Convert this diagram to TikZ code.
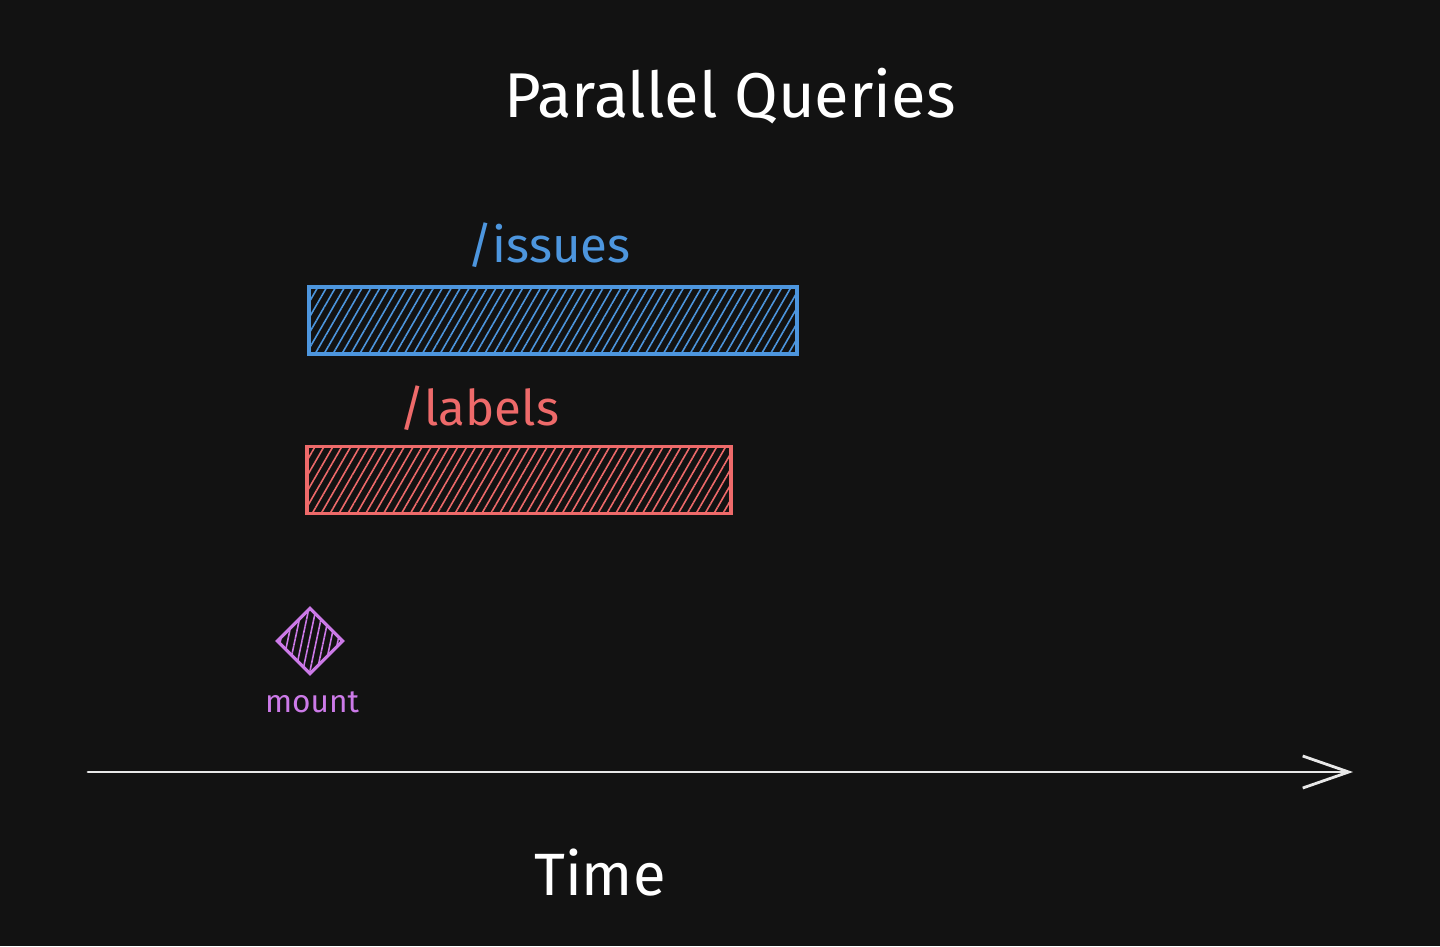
\documentclass[tikz,border=0pt]{standalone}
\usepackage{fontspec}
\setmainfont{Fira Sans}
\usetikzlibrary{arrows.meta,patterns.meta,shapes.geometric,positioning}
\definecolor{bg}{RGB}{18,18,18}
\definecolor{qblue}{RGB}{77,150,222}
\definecolor{qred}{RGB}{238,106,106}
\definecolor{qpurple}{RGB}{204,122,232}
\definecolor{axisgray}{RGB}{232,232,232}
\tikzstyle{querybar} = [draw, rectangle, line width=1pt, inner sep=0pt,
    minimum height=0.67cm]
\tikzstyle{qtext} = [inner sep=0pt, font=\fontsize{14}{16}\selectfont]
\tikzstyle{marker} = [draw=qpurple, diamond, line width=0.9pt, inner sep=0pt,
    minimum width=0.66cm, minimum height=0.66cm,
    pattern={Lines[angle=78,distance=2pt,line width=0.45pt]}, pattern color=qpurple]
\begin{document}
\begin{tikzpicture}[node distance=1cm,>={Straight Barb[length=4.6mm,width=3.2mm]}]
    \fill [bg] (0,0) rectangle (14.4,-9.46);
    \useasboundingbox (0,0) rectangle (14.4,-9.46);
    \node [text=white, inner sep=0pt, font=\fontsize{18}{21}\selectfont] (title) at (7.30,-0.96) {Parallel Queries};
    \node [querybar, draw=qblue, minimum width=4.88cm,
        pattern={Lines[angle=60,distance=2.2pt,line width=0.45pt]}, pattern color=qblue] (issues) at (5.53,-3.205) {};
    \node [qtext, text=qblue, above of=issues, node distance=0.75cm, xshift=-0.04cm] (issueslbl) {/issues};
    \node [querybar, draw=qred, minimum width=4.24cm,
        pattern={Lines[angle=60,distance=2.2pt,line width=0.45pt]}, pattern color=qred] (labels) at (5.19,-4.80) {};
    \node [qtext, text=qred, above of=labels, node distance=0.72cm, xshift=-0.4cm] (labelslbl) {/labels};
    \node [marker] (mount) at (3.10,-6.41) {};
    \node [inner sep=0pt, text=qpurple, font=\fontsize{9}{11}\selectfont, below of=mount, node distance=0.61cm, xshift=0.02cm] (mountlbl) {mount};
    \coordinate (t0) at (0.88,-7.72);
    \coordinate (t1) at (13.53,-7.72);
    \draw [->, axisgray, line width=0.8pt, line cap=round] (t0) -- (t1);
    \node [text=white, inner sep=0pt, font=\fontsize{17}{20}\selectfont] (time) at (6.00,-8.73) {Time};
\end{tikzpicture}
\end{document}
